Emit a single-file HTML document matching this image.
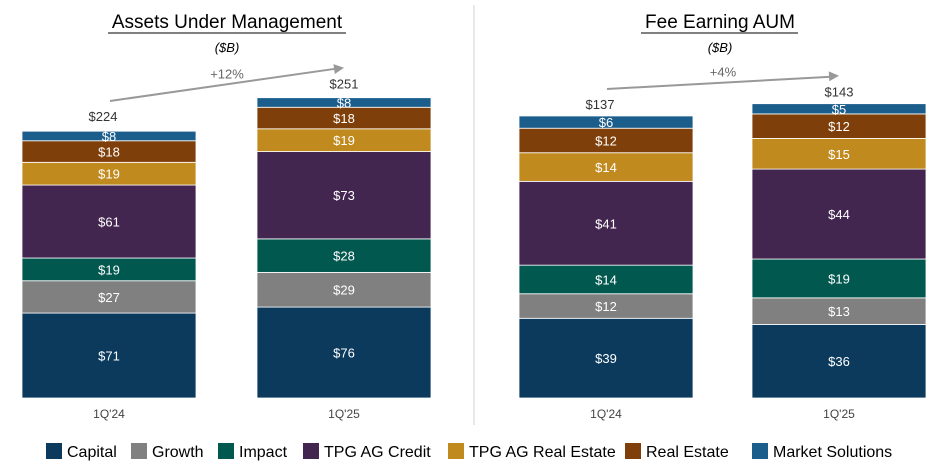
<!DOCTYPE html>
<html><head><meta charset="utf-8"><style>
body{margin:0;background:#fff;font-family:"Liberation Sans",sans-serif;}
svg text{font-family:"Liberation Sans",sans-serif;}
</style></head><body>
<svg id="chart" width="940" height="468" viewBox="0 0 940 468">
<text x="227" y="28" font-size="19" text-anchor="middle" fill="#000">Assets Under Management</text>
<line x1="108" y1="33" x2="346" y2="33" stroke="#000" stroke-width="1"/>
<text x="227" y="52" font-size="13" font-style="italic" text-anchor="middle">($B)</text>
<text x="720" y="28" font-size="19" text-anchor="middle" fill="#000">Fee Earning AUM</text>
<line x1="641" y1="33" x2="798" y2="33" stroke="#000" stroke-width="1"/>
<text x="720" y="52" font-size="13" font-style="italic" text-anchor="middle">($B)</text>
<line x1="474" y1="5" x2="474" y2="425" stroke="#d0d0d0" stroke-width="1"/>
<g id="marks"></g>
<g id="legend"></g>
</svg>
<script>
const series = ["Capital","Growth","Impact","TPG AG Credit","TPG AG Real Estate","Real Estate","Market Solutions"];
const colors = ["#0b3a5d","#808080","#00584f","#432650","#c08a1e","#7f3f0a","#1b5e8c"];
const categories = ["1Q'24","1Q'25"];
const aum24 = [71,27,19,61,19,18,8];
const aum25 = [76,29,28,73,19,18,8];
const fe24 = [39,12,14,41,14,12,6];
const fe25 = [36,13,19,44,15,12,5];
const aumTotals = [224,251];
const feTotals = [137,143];
const aumGrowth = "+12%";
const feGrowth = "+4%";
const NS="http://www.w3.org/2000/svg";
const g=document.getElementById('marks');
function mk(tag,attrs,parent){const e=document.createElementNS(NS,tag);for(const k in attrs)e.setAttribute(k,attrs[k]);(parent||g).appendChild(e);return e;}
const base=398;
function panel(name,stacks,totals,growth,xs,w,scale){
  const tops=[];
  stacks.forEach((vals,ci)=>{
    let y=base;
    vals.forEach((v,si)=>{
      const h=v*scale;
      const r=mk('rect',{x:xs[ci],y:y-h,width:w,height:h,fill:colors[si],stroke:'#fff','stroke-width':0.8});
      
      
      const t=mk('text',{x:xs[ci]+w/2,y:y-h/2+5,'font-size':13,fill:'#fff','text-anchor':'middle'});
      t.textContent='$'+v;
      
      
      y-=h;
    });
    const topY=base-totals[ci]*scale;
    tops.push(topY);
    const tt=mk('text',{x:xs[ci]+w/2-(ci==0?6:0),y:topY-9,'font-size':13,fill:'#333','text-anchor':'middle'});
    tt.textContent='$'+totals[ci];
    
    
    const xl=mk('text',{x:xs[ci]+w/2,y:418,'font-size':12,fill:'#444','text-anchor':'middle'});
    xl.textContent=categories[ci];
    
    
  });
  const x1=xs[0]+w/2+1,y1=tops[0]-29,x2=xs[1]+w/2,y2=tops[1]-30;
  const ln=mk('line',{x1:x1,y1:y1,x2:x2-8,y2:y2+1,stroke:'#999','stroke-width':2});
  
  
  const ang=Math.atan2(y2-y1,x2-x1);
  const p=[[x2,y2],[x2-10*Math.cos(ang)+5*Math.sin(ang),y2-10*Math.sin(ang)-5*Math.cos(ang)],[x2-10*Math.cos(ang)-5*Math.sin(ang),y2-10*Math.sin(ang)+5*Math.cos(ang)]];
  const ah=mk('polygon',{points:p.map(q=>q.join(',')).join(' '),fill:'#999'});
  
  
  const gt=mk('text',{x:(x1+x2)/2,y:(y1+y2)/2-6,'font-size':13,fill:'#666','text-anchor':'middle'});
  gt.textContent=growth;
  
  
}
panel('aum',[aum24,aum25],aumTotals,aumGrowth,[22,257],174,268/224);
panel('feaum',[fe24,fe25],feTotals,feGrowth,[519,752],174,280/137);
const lg=document.getElementById('legend');
const lx=[46,131,218,303,448,625,752];
series.forEach((s,i)=>{
  const r=mk('rect',{x:lx[i],y:443,width:16,height:16,fill:colors[i]},lg);
  
  
  const t=mk('text',{x:lx[i]+21,y:457,'font-size':16,fill:'#000'},lg);
  t.textContent=s;
  
  
});
</script>
</body></html>
